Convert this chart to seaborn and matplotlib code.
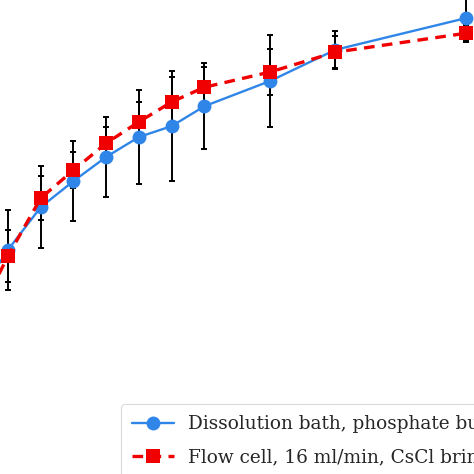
import numpy as np
import pandas as pd
import matplotlib
matplotlib.use("Agg")
import matplotlib.pyplot as plt
import seaborn as sns

# Data (time in min, release in %)
time_min = [0, 5, 10, 15, 20, 25, 30, 35, 45, 55, 75]
bath_release = [36.7, 47.3, 56.3, 61.8, 66.9, 71.1, 73.4, 77.6, 82.9, 89.5, 96.2]
bath_err = [8.0, 8.4, 8.6, 8.4, 8.4, 9.9, 11.6, 9.1, 9.7, 4.0, 5.1]
flow_release = [32.1, 46.0, 58.2, 64.1, 69.8, 74.3, 78.5, 81.6, 84.8, 89.0, 93.0]
flow_err = [5.0, 5.5, 4.6, 3.8, 3.4, 4.2, 5.3, 4.2, 4.9, 3.4, 1.7]
series_labels = ["Dissolution bath, phosphate buffer", "Flow cell, 16 ml/min, CsCl brine"]

sns.set_theme(style="white")
plt.rcParams["font.family"] = ["DejaVu Serif", "Liberation Serif"]

bath = pd.DataFrame({"t": time_min, "r": bath_release})
flow = pd.DataFrame({"t": time_min, "r": flow_release})

fig = plt.figure(figsize=(4.74, 4.74), dpi=100)
ax = fig.add_axes([0, 0, 1, 1])

ax.errorbar(time_min, bath_release, yerr=bath_err, fmt="none", ecolor="black",
            elinewidth=1.4, capsize=2, capthick=1.4, zorder=1)
ax.errorbar(time_min, flow_release, yerr=flow_err, fmt="none", ecolor="black",
            elinewidth=1.4, capsize=2, capthick=1.4, zorder=1)

sns.lineplot(data=bath, x="t", y="r", ax=ax, color="#2f86e8", marker="o",
             markersize=10, markeredgewidth=0, linewidth=1.7,
             label=series_labels[0], zorder=3)
sns.lineplot(data=flow, x="t", y="r", ax=ax, color="#f00000", marker="s",
             markersize=10, markeredgewidth=0, linewidth=2.4,
             linestyle=(0, (3.2, 2.2)), label=series_labels[1], zorder=4)

ax.set_xlim(3.78, 76.15)
ax.set_ylim(0, 100)
ax.axis("off")

leg = ax.legend(loc="upper left", bbox_to_anchor=(121 / 474, 1 - 404 / 474),
                bbox_transform=fig.transFigure, borderaxespad=0,
                fontsize=13.3, handlelength=2.25, handletextpad=0.8,
                borderpad=0.6, labelspacing=0.82, frameon=True, fancybox=True)
leg.get_frame().set_edgecolor("#d0d0d0")
leg.get_frame().set_linewidth(0.8)

fig.savefig("out.png", dpi=100)
